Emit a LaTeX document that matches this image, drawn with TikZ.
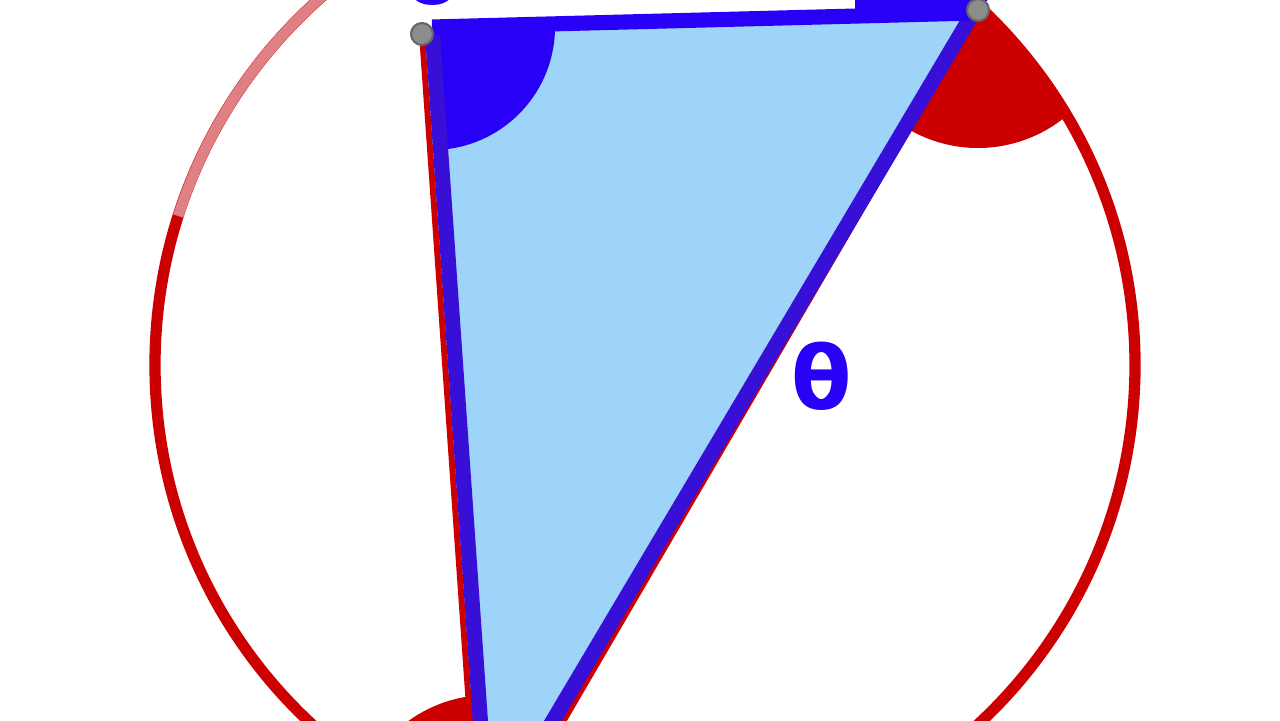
\documentclass[tikz,border=0pt]{standalone}
\usepackage{fontspec}
\newfontfamily\labelfont{DejaVu Sans}
\usetikzlibrary{calc}
\definecolor{circlered}{RGB}{204,0,0}
\definecolor{palered}{RGB}{222,128,132}
\definecolor{edgeblue}{RGB}{55,15,215}
\definecolor{angleblue}{RGB}{40,0,245}
\definecolor{fillblue}{RGB}{158,212,250}
\definecolor{dotgray}{RGB}{140,140,140}

\begin{document}
\begin{tikzpicture}[x=0.01cm,y=-0.01cm,
  vertexdot/.style={fill=dotgray,draw=black!60,line width=0.6pt},
  anglelabel/.style={text=angleblue,inner sep=0pt,font=\labelfont\bfseries\fontsize{25}{30}\selectfont}]
\useasboundingbox (0,0) rectangle (1280,720);
\clip (0,0) rectangle (1280,720);
\coordinate (center) at (645,365);
\coordinate (A) at (422,34);
\coordinate (B) at (978,10);
% Corners of the blue triangle
\coordinate (a) at (432,27);
\coordinate (b) at (973,13);
\coordinate (c) at (488,830);
\coordinate (redc) at (480,864);
% Draw circle
\draw[circlered,line width=3.2pt] (center) circle [radius=490];
% Faded part of circle
\draw[palered,line width=3pt] (center) ++(197.7:490) arc [start angle=197.7, end angle=275, radius=490];
% Red angles, kept inside the circle
\begin{scope}
\clip (center) circle [radius=495];
\fill[circlered] (B) -- ++(43.2:138) arc [start angle=43.2, end angle=120.25, radius=138] -- cycle;
\fill[circlered] (c) -- ++(198.65:135) arc [start angle=198.65, end angle=266, radius=135] -- cycle;
\end{scope}
% Red chords
\draw[circlered,line width=1.7pt] (A) -- (redc) -- (B);
% Fill triangle
\fill[fillblue] (a) -- (b) -- (c) -- cycle;
% Blue angle at a
\fill[angleblue] (a) -- ++(-1.48:123) arc [start angle=-1.48, end angle=86, radius=123] -- cycle;
% Blue patch above top side
\fill[angleblue] (855,-2) -- (990,-2) -- (b) -- (855,16) -- cycle;
% Sides of triangle
\draw[edgeblue,line width=4.3pt] (b) -- (c) -- (a);
\draw[angleblue,line width=4.3pt] (a) -- (b);
% Dots at vertices
\filldraw[vertexdot] (A) circle [radius=11];
\filldraw[vertexdot] (B) circle [radius=11];
% Labels
\node[anglelabel] (theta) at (822,376) {θ};
\node[anglelabel,anchor=base] (thetatop) at (433,4) {θ};
\end{tikzpicture}
\end{document}
